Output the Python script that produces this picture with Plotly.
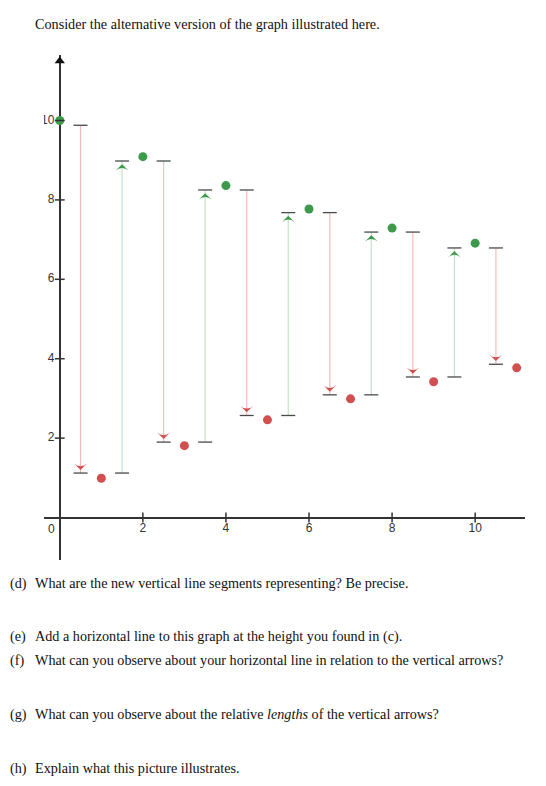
import plotly.graph_objects as go

# dots of the two interleaved sequences
green_x = [0, 2, 4, 6, 8, 10]
green_y = [10, 9.09, 8.36, 7.77, 7.29, 6.91]
red_x = [1, 3, 5, 7, 9, 11]
red_y = [0.99, 1.81, 2.46, 2.99, 3.42, 3.77]

# vertical arrows between them
seg_x = [0.5, 1.5, 2.5, 3.5, 4.5, 5.5, 6.5, 7.5, 8.5, 9.5, 10.5]
seg_top = [9.88, 8.98, 8.98, 8.25, 8.25, 7.68, 7.68, 7.19, 7.19, 6.79, 6.79]
seg_bottom = [1.12, 1.12, 1.90, 1.90, 2.57, 2.57, 3.09, 3.09, 3.54, 3.54, 3.86]
seg_dir = ["down", "up", "down", "up", "down", "up", "down", "up", "down", "up", "down"]

x_ticks = [2, 4, 6, 8, 10]
y_ticks = [2, 4, 6, 8, 10]

title_text = "Consider the alternative version of the graph illustrated here."
q_labels = ["(d)", "(e)", "(f)", "(g)", "(h)"]
q_texts = [
    "What are the new vertical line segments representing? Be precise.",
    "Add a horizontal line to this graph at the height you found in (c).",
    "What can you observe about your horizontal line in relation to the vertical arrows?",
    "What can you observe about the relative <i>lengths</i> of the vertical arrows?",
    "Explain what this picture illustrates.",
]
q_pixel_y = [583, 636, 660, 714, 768]

# the page body has an 8px margin, so the figure sits at (8, 8)
OFF = 8
W, H = 546 - 2 * OFF, 786 - 2 * OFF


def px(v):
    return (v - OFF) / W


def py(v):
    return 1 - (v - OFF) / H


GREEN = "#3d9a4c"
RED = "#d24f4f"
GREEN_LIGHT = "#c3e2c8"
RED_LIGHT = "#f6bcbc"
CAP = "#4a4a4a"
AXIS = "#333333"
GAP = 0.08

fig = go.Figure()

# segment lines
for direction, col in [("down", RED_LIGHT), ("up", GREEN_LIGHT)]:
    xs, ys = [], []
    for x, t, b, d in zip(seg_x, seg_top, seg_bottom, seg_dir):
        if d == direction:
            xs += [x, x, None]
            ys += [t, b, None]
    fig.add_trace(go.Scatter(x=xs, y=ys, mode="lines",
                             line=dict(color=col, width=1.2),
                             hoverinfo="skip", showlegend=False))

# end caps
cap_x = seg_x + seg_x
cap_y = seg_top + seg_bottom
fig.add_trace(go.Scatter(x=cap_x, y=cap_y, mode="markers",
                         marker=dict(symbol="line-ew", size=10,
                                     line=dict(color=CAP, width=1.3)),
                         hoverinfo="skip", showlegend=False))

# arrow heads
down_x = [x for x, d in zip(seg_x, seg_dir) if d == "down"]
down_y = [b + GAP for b, d in zip(seg_bottom, seg_dir) if d == "down"]
up_x = [x for x, d in zip(seg_x, seg_dir) if d == "up"]
up_y = [t - GAP for t, d in zip(seg_top, seg_dir) if d == "up"]
fig.add_trace(go.Scatter(x=down_x, y=down_y, mode="markers",
                         marker=dict(symbol="arrow-wide", angle=180, size=9,
                                     color=RED, line=dict(width=0)),
                         hoverinfo="skip", showlegend=False))
fig.add_trace(go.Scatter(x=up_x, y=up_y, mode="markers",
                         marker=dict(symbol="arrow-wide", angle=0, size=9,
                                     color=GREEN, line=dict(width=0)),
                         hoverinfo="skip", showlegend=False))

# dots
fig.add_trace(go.Scatter(x=green_x, y=green_y, mode="markers",
                         marker=dict(size=9, color=GREEN),
                         cliponaxis=False, showlegend=False))
fig.add_trace(go.Scatter(x=red_x, y=red_y, mode="markers",
                         marker=dict(size=9, color=RED),
                         cliponaxis=False, showlegend=False))

# axis tick marks and labels
tick_font = dict(family="Liberation Sans, Arial", size=12, color="#333")
fig.add_trace(go.Scatter(x=x_ticks, y=[0] * len(x_ticks), mode="markers+text",
                         marker=dict(symbol="line-ns", size=7,
                                     line=dict(color=AXIS, width=1.5)),
                         text=[str(t) for t in x_ticks], textposition="bottom center",
                         textfont=tick_font, hoverinfo="skip", showlegend=False))
fig.add_trace(go.Scatter(x=[0] * len(y_ticks), y=y_ticks, mode="markers+text",
                         marker=dict(symbol="line-ew", size=7,
                                     line=dict(color=AXIS, width=1.5)),
                         text=[str(t) for t in y_ticks], textposition="middle left",
                         textfont=tick_font, hoverinfo="skip", showlegend=False))

# arrow tip of the y axis
fig.add_trace(go.Scatter(x=[0], y=[11.5], mode="markers",
                         marker=dict(symbol="triangle-up", size=9, color="#111"),
                         cliponaxis=False, hoverinfo="skip", showlegend=False))

serif = dict(family="Liberation Serif, Times New Roman, serif", size=14.2, color="#111")
annotations = [
    dict(x=0, y=0, xref="x", yref="y", text="0", showarrow=False,
         xanchor="right", yanchor="top", xshift=-3, yshift=-2, font=tick_font),
    dict(x=px(33), y=py(24), xref="paper", yref="paper",
         text=title_text, showarrow=False, xanchor="left",
         yanchor="middle", font=serif),
]
for lab, txt, qy in zip(q_labels, q_texts, q_pixel_y):
    annotations.append(dict(x=px(8), y=py(qy), xref="paper", yref="paper",
                            text=lab, showarrow=False, xanchor="left",
                            yanchor="middle", font=serif))
    annotations.append(dict(x=px(33), y=py(qy), xref="paper", yref="paper",
                            text=txt, showarrow=False, xanchor="left",
                            yanchor="middle", font=serif))

fig.update_layout(
    width=W, height=H,
    margin=dict(l=0, r=0, t=0, b=0),
    paper_bgcolor="white", plot_bgcolor="white",
    showlegend=False,
    xaxis=dict(range=[-0.38, 11.2], domain=[px(44), px(525)],
               showgrid=False, showticklabels=False, ticks="",
               zeroline=True, zerolinecolor=AXIS, zerolinewidth=1.6),
    yaxis=dict(range=[-1.07, 11.65], domain=[py(560), py(55)],
               showgrid=False, showticklabels=False, ticks="",
               zeroline=True, zerolinecolor=AXIS, zerolinewidth=1.6),
    annotations=annotations,
)

fig.write_html("out.html")
